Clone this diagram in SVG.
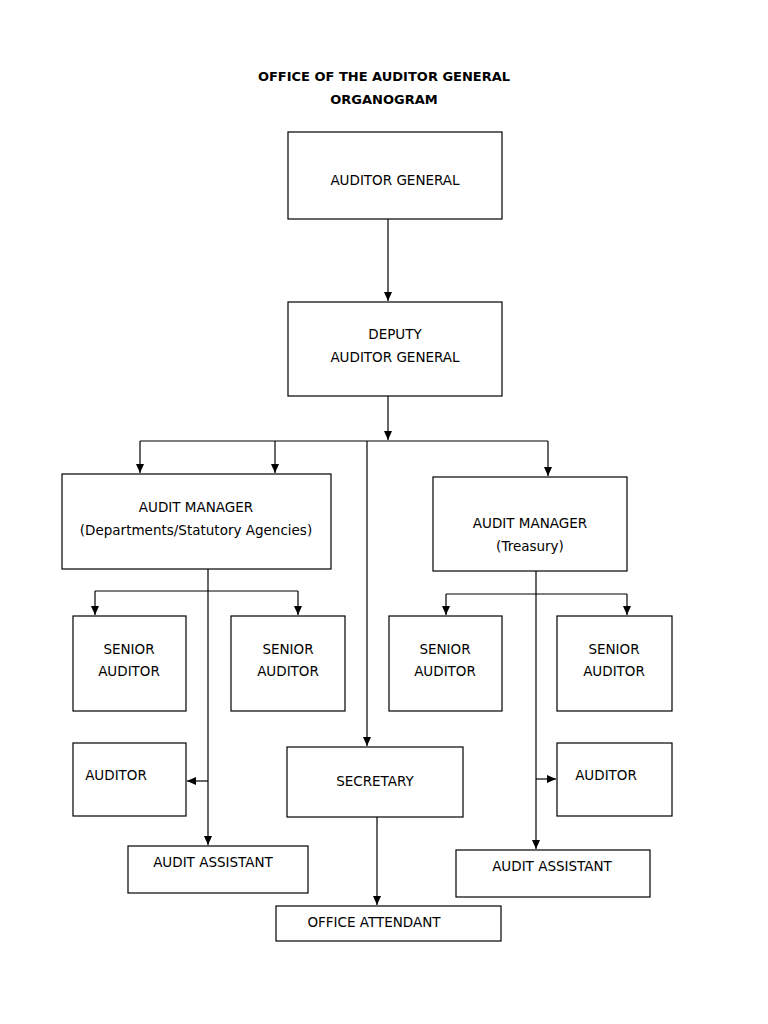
<svg xmlns="http://www.w3.org/2000/svg" width="768" height="1024" viewBox="0 0 768 1024">
<defs>
<marker id="a" markerWidth="10" markerHeight="10" refX="9" refY="5" orient="auto" markerUnits="userSpaceOnUse"><path d="M0,1 L9,5 L0,9 Z" fill="#000"/></marker>
<style>
rect{fill:#fff;stroke:#000;stroke-width:1.2}
text{font-family:"DejaVu Sans","Liberation Sans",sans-serif;font-size:13.5px;text-anchor:middle;fill:#000}
.t{font-weight:bold;font-size:13px}
#c line,#c path{stroke:#000;stroke-width:1.2;fill:none}
</style>
</defs>
<rect x="0" y="0" width="768" height="1024" style="stroke:none"/>
<text class="t" x="384" y="81">OFFICE OF THE AUDITOR GENERAL</text>
<text class="t" x="384" y="104">ORGANOGRAM</text>
<g id="c">
<line x1="388" y1="219" x2="388" y2="301" marker-end="url(#a)"/>
<line x1="388" y1="396" x2="388" y2="440" marker-end="url(#a)"/>
<line x1="140" y1="441" x2="548" y2="441"/>
<line x1="140" y1="441" x2="140" y2="473" marker-end="url(#a)"/>
<line x1="275" y1="441" x2="275" y2="473" marker-end="url(#a)"/>
<line x1="548" y1="441" x2="548" y2="476" marker-end="url(#a)"/>
<line x1="367" y1="441" x2="367" y2="746" marker-end="url(#a)"/>
<line x1="208" y1="569" x2="208" y2="845" marker-end="url(#a)"/>
<line x1="95" y1="591" x2="298" y2="591"/>
<line x1="95" y1="591" x2="95" y2="615" marker-end="url(#a)"/>
<line x1="298" y1="591" x2="298" y2="615" marker-end="url(#a)"/>
<line x1="208" y1="781" x2="187" y2="781" marker-end="url(#a)"/>
<line x1="377" y1="817" x2="377" y2="905" marker-end="url(#a)"/>
<line x1="536" y1="571" x2="536" y2="849" marker-end="url(#a)"/>
<line x1="446" y1="594" x2="627" y2="594"/>
<line x1="446" y1="594" x2="446" y2="615" marker-end="url(#a)"/>
<line x1="627" y1="594" x2="627" y2="615" marker-end="url(#a)"/>
<line x1="536" y1="779" x2="556" y2="779" marker-end="url(#a)"/>
</g>
<g id="ag"><rect x="288" y="132" width="214" height="87"/><text x="395" y="185">AUDITOR GENERAL</text></g>
<g id="dag"><rect x="288" y="302" width="214" height="94"/><text x="395" y="339">DEPUTY</text><text x="395" y="362">AUDITOR GENERAL</text></g>
<g id="amd"><rect x="62" y="474" width="269" height="95"/><text x="196" y="512">AUDIT MANAGER</text><text x="196" y="535">(Departments/Statutory Agencies)</text></g>
<g id="amt"><rect x="433" y="477" width="194" height="94"/><text x="530" y="528">AUDIT MANAGER</text><text x="530" y="551">(Treasury)</text></g>
<g id="sa1"><rect x="73" y="616" width="113" height="95"/><text x="129" y="654">SENIOR</text><text x="129" y="676">AUDITOR</text></g>
<g id="sa2"><rect x="231" y="616" width="114" height="95"/><text x="288" y="654">SENIOR</text><text x="288" y="676">AUDITOR</text></g>
<g id="sa3"><rect x="389" y="616" width="113" height="95"/><text x="445" y="654">SENIOR</text><text x="445" y="676">AUDITOR</text></g>
<g id="sa4"><rect x="557" y="616" width="115" height="95"/><text x="614" y="654">SENIOR</text><text x="614" y="676">AUDITOR</text></g>
<g id="au1"><rect x="73" y="743" width="113" height="73"/><text x="116" y="780">AUDITOR</text></g>
<g id="au2"><rect x="557" y="743" width="115" height="73"/><text x="606" y="780">AUDITOR</text></g>
<g id="aa1"><rect x="128" y="846" width="180" height="47"/><text x="213" y="867">AUDIT ASSISTANT</text></g>
<g id="sec"><rect x="287" y="747" width="176" height="70"/><text x="375" y="786">SECRETARY</text></g>
<g id="aa2"><rect x="456" y="850" width="194" height="47"/><text x="552" y="871">AUDIT ASSISTANT</text></g>
<g id="oa"><rect x="276" y="906" width="225" height="35"/><text x="374" y="927">OFFICE ATTENDANT</text></g>
</svg>
